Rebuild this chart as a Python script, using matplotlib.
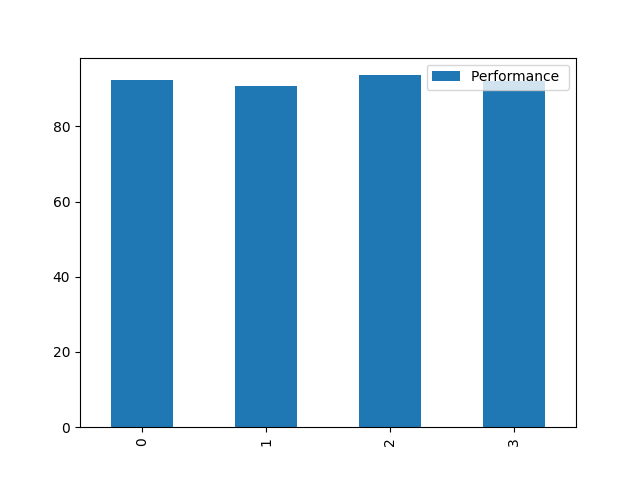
import pandas as pd
import matplotlib
matplotlib.use('Agg')
import matplotlib.pyplot as plt

performance = [92.3, 90.7, 93.6, 92.0]

df = pd.DataFrame({'Performance ': performance})
ax = df.plot(kind='bar')
plt.savefig('out.png')
